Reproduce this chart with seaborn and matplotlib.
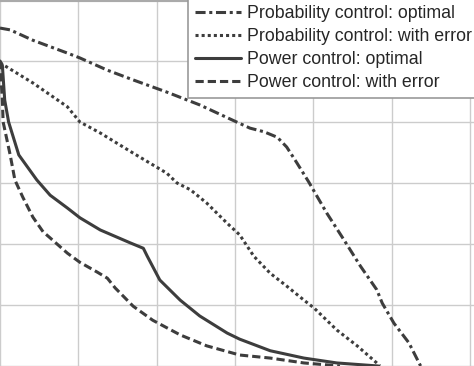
import pandas as pd
import numpy as np
import seaborn as sns
import matplotlib.pyplot as plt

# valeurs (unites de grille)
prob_opt_x = [0, 0.13, 0.42, 0.86, 1.02, 1.37, 1.70, 2.13, 2.55, 2.97, 3.19, 3.37, 3.54, 3.66, 3.79,
              3.94, 4.17, 4.39, 4.60, 4.81, 4.88, 5.03, 5.22, 5.35, 5.37]
prob_opt_y = [5.54, 5.51, 5.34, 5.13, 5.05, 4.85, 4.69, 4.49, 4.28, 4.03, 3.90, 3.84, 3.75, 3.59, 3.33,
              3.02, 2.51, 2.07, 1.64, 1.25, 1.03, 0.70, 0.38, 0.05, 0.0]

prob_err_x = [0, 0.42, 0.86, 1.02, 1.28, 1.70, 2.13, 2.26, 2.43, 2.64, 2.90, 3.06, 3.24, 3.45, 3.66,
              3.88, 4.01, 4.30, 4.56, 4.81, 4.85]
prob_err_y = [4.97, 4.64, 4.25, 4.00, 3.82, 3.49, 3.16, 3.00, 2.89, 2.67, 2.34, 2.15, 1.80, 1.52, 1.31,
              1.08, 0.95, 0.59, 0.33, 0.05, 0.0]

pow_opt_x = [0, 0.03, 0.06, 0.11, 0.24, 0.47, 0.64, 0.86, 1.02, 1.28, 1.66, 1.83, 1.88, 2.04, 2.30,
             2.55, 2.90, 3.06, 3.45, 3.88, 4.30, 4.83]
pow_opt_y = [5.0, 4.93, 4.36, 4.00, 3.46, 3.05, 2.80, 2.59, 2.43, 2.23, 2.02, 1.93, 1.80, 1.41, 1.08,
             0.82, 0.54, 0.44, 0.25, 0.13, 0.05, 0.0]

pow_err_x = [0, 0.03, 0.04, 0.13, 0.19, 0.29, 0.42, 0.55, 0.64, 0.86, 1.02, 1.24, 1.37, 1.47, 1.70,
             1.95, 2.30, 2.64, 3.06, 3.45, 3.88, 4.34]
pow_err_y = [5.0, 4.36, 4.00, 3.46, 3.05, 2.77, 2.44, 2.20, 2.10, 1.85, 1.70, 1.54, 1.44, 1.28, 0.98,
             0.75, 0.51, 0.33, 0.18, 0.13, 0.05, 0.0]

labels = ["Probability control: optimal", "Probability control: with error",
          "Power control: optimal", "Power control: with error"]

series = [(prob_opt_x, prob_opt_y, (0, (3.3, 1.2, 1, 1.2))),
          (prob_err_x, prob_err_y, (0, (1, 1))),
          (pow_opt_x, pow_opt_y, "-"),
          (pow_err_x, pow_err_y, (0, (2.7, 1.3)))]

sns.set_style("white")
plt.rcParams['font.family'] = ['Liberation Sans', 'DejaVu Sans']

fig = plt.figure(figsize=(4.74, 3.66), dpi=100)
ax = fig.add_axes([0, 0, 1, 1])

col = "#3d3d3d"
for (xs, ys, ls), lab in zip(series, labels):
    sns.lineplot(x=xs, y=ys, ax=ax, sort=False, color=col, linewidth=2.2, linestyle=ls, label=lab)

ax.set_xlim(0, 474 / 78.33)
ax.set_ylim(0, 6)
ax.set_xticks(np.arange(0, 7, 1))
ax.set_yticks(np.arange(0, 7, 1))
ax.grid(True, color="#cccccc", linewidth=1)
ax.tick_params(length=0, labelbottom=False, labelleft=False)
for s in ["left", "right", "bottom"]:
    ax.spines[s].set_visible(False)
ax.spines["top"].set_color("#aaaaaa")
ax.spines["top"].set_linewidth(3)

h, l = ax.get_legend_handles_labels()
leg = ax.legend(h, l, loc="upper left", bbox_to_anchor=(188 / 474, 1.006), borderaxespad=0,
                fontsize=12.8, handlelength=2.6, handletextpad=0.34, labelspacing=0.34,
                borderpad=0.4, fancybox=False, framealpha=1, edgecolor="#999999")
leg.get_frame().set_linewidth(1.2)

plt.savefig("out.png", dpi=100)
